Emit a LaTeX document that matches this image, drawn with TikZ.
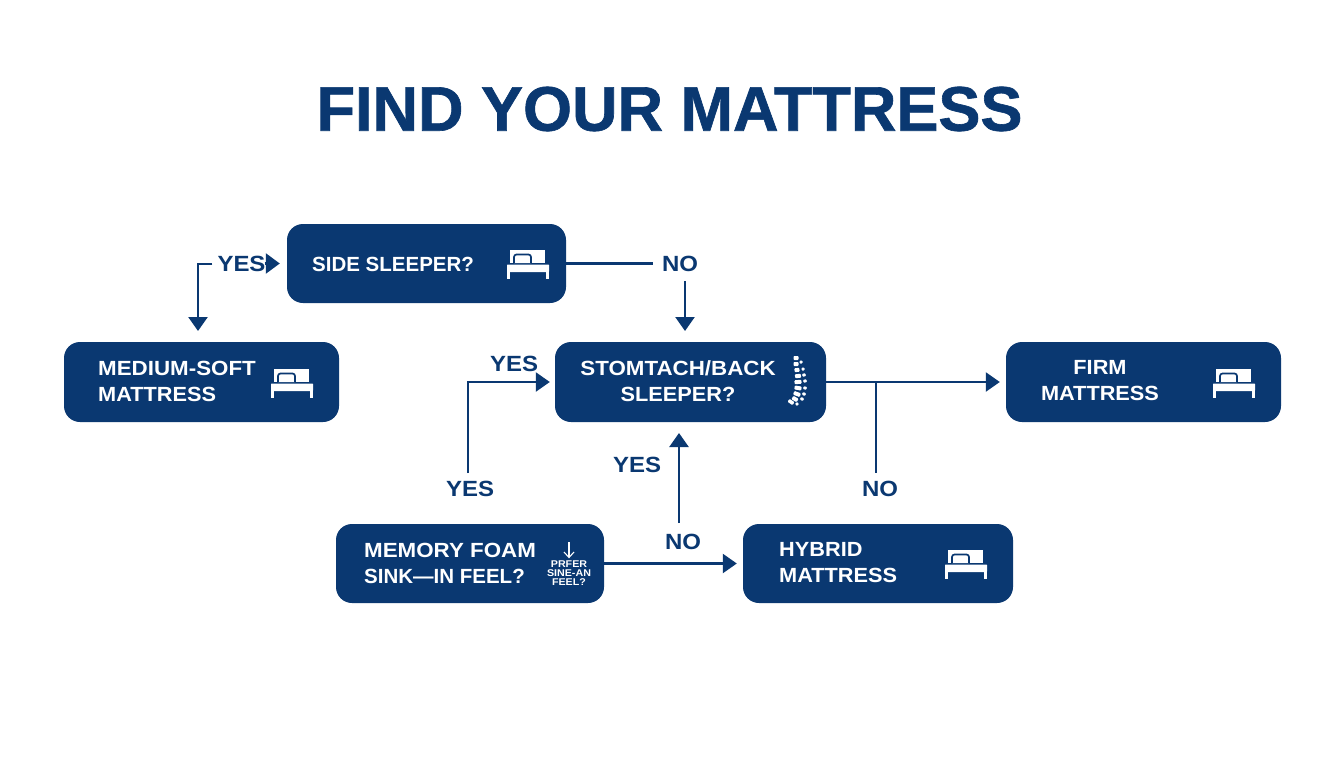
\documentclass[tikz,border=0pt]{standalone}
\usepackage{fontspec}
\setmainfont{Liberation Sans}
\newfontfamily\widefont[FakeStretch=1.09]{Liberation Sans}
\newfontfamily\midfont[FakeStretch=1.06]{Liberation Sans}
\newfontfamily\titlefont[FakeBold=1.0]{Liberation Sans}
\usetikzlibrary{arrows.meta}
\definecolor{navy}{HTML}{0A3871}
\newcommand{\fs}[1]{\normalfont\fontsize{#1}{#1}\selectfont\bfseries}
\newcommand{\fw}[1]{\widefont\fontsize{#1}{#1}\selectfont\bfseries}
\newcommand{\fm}[1]{\midfont\fontsize{#1}{#1}\selectfont\bfseries}
\newcommand{\bedicon}[2]{%
  \begin{scope}[shift={(#1,#2)}]
    \fill[white] (3,0) rectangle (38,13);
    \draw[navy,line width=1.7pt,fill=white,rounded corners=2.5pt] (7,13) -- (7,4.5) -- (24,4.5) -- (24,13);
    \fill[white,rounded corners=0.6pt] (0,14.5) rectangle (42,22);
    \fill[white] (0,20) rectangle (3.2,29);
    \fill[white] (38.8,20) rectangle (42,29);
  \end{scope}}
\tikzset{
  box/.style={draw=none,fill=navy,rounded corners=16pt,inner sep=0pt},
  boxtext/.style={text=white,font=\fw{20.5},align=left,inner sep=0pt,anchor=west},
  lab/.style={text=navy,font=\fw{22},inner sep=0pt},
  conn/.style={draw=navy,line width=2.4pt},
  arr/.style={conn,-{Triangle[length=14pt,width=19pt]}},
}
\begin{document}
\begin{tikzpicture}[x=1pt,y=-1pt]
\useasboundingbox[fill=white] (0,0) rectangle (1344,768);
\node[text=navy,font={\titlefont\fontsize{63}{63}\selectfont\bfseries},inner sep=0pt] (title) at (669.5,109) {FIND YOUR MATTRESS};

\node[box,minimum width=279pt,minimum height=79pt] (side) at (426.5,263.5) {};
\node[box,minimum width=275pt,minimum height=80pt] (medium) at (201.5,382) {};
\node[box,minimum width=271pt,minimum height=80pt] (stomach) at (690.5,382) {};
\node[box,minimum width=275pt,minimum height=80pt] (firm) at (1143.5,382) {};
\node[box,minimum width=268pt,minimum height=79pt] (memory) at (470,563.5) {};
\node[box,minimum width=270pt,minimum height=79pt] (hybrid) at (878,563.5) {};

\node[boxtext,font=\fs{20.5}] (sidet) at (312,264) {SIDE SLEEPER?};
\node[boxtext] (medt) at (98,381) {MEDIUM-SOFT\\[5.5pt]{\fm{20.5}MATTRESS}};
\node[boxtext,align=center,anchor=center] (stot) at (678,381) {STOMTACH/BACK\\[5.5pt]{\fm{20.5}SLEEPER?}};
\node[boxtext,align=center,anchor=center] (firmt) at (1100,381) {{\fm{20.5}FIRM}\\[5.5pt]{\fm{20.5}MATTRESS}};
\node[boxtext] (memt) at (364,563) {MEMORY FOAM\\[5.5pt]{\fs{20.5}SINK—IN FEEL?}};
\node[boxtext,font=\fm{20.5}] (hybt) at (779,563) {HYBRID\\[5.5pt]MATTRESS};

\bedicon{507}{250}
\bedicon{271}{369}
\bedicon{1213}{369}
\bedicon{945}{550}

% spine icon
\foreach \x/\y/\w/\h/\a in {
 796/358/5/4/0, 796/364/5/4/0, 801/362/3/3/0, 797/370/5/4/5, 803/369/3/3/0,
 798/376/6/4/5, 804/375/3.5/3/10, 798/382/7/4/5, 805/381/3.5/3/10,
 798/388/7/4/-10, 805/388/3.5/3/-10, 797/394/7/4/-20, 804/394/3.5/3/-25,
 795/399/6/4/-30, 802/399/3.5/3/-30, 791/402/6/3.6/-35, 797/404/3/3/-35}{
  \fill[white,rounded corners=0.9pt,rotate around={\a:(\x,\y)}]
    (\x-\w/2,\y-\h/2) rectangle (\x+\w/2,\y+\h/2);
}

% small icon in the memory foam box
\node[text=white,font=\fw{9.8},align=center,inner sep=0pt] (small) at (569,573) {PRFER\\[-0.5pt]SINE-AN\\[-0.5pt]FEEL?};
\draw[white,line width=1.1pt] (569,542) -- (569,557);
\draw[white,line width=1.1pt] (564,552) -- (569,557.5) -- (574,552);

% labels
\node[lab] (yesa) at (241.5,264) {YES};
\node[lab] (noa) at (680,264) {NO};
\node[lab] (yesb) at (514,364) {YES};
\node[lab] (yesc) at (470,489) {YES};
\node[lab] (yesd) at (637,465) {YES};
\node[lab] (nob) at (880,489) {NO};
\node[lab] (noc) at (683,542) {NO};

% connectors
\coordinate (medtip) at (198,331);
\coordinate (notip) at (685,331);
\coordinate (nostart) at (685,281);
\coordinate (branch) at (876,382);
\coordinate (branchend) at (876,473);
\coordinate (leftstart) at (468,473);
\coordinate (upstart) at (679,523);
\coordinate (uptip) at (679,433);
\draw[arr,-{Triangle[length=14pt,width=20pt]}] ([xshift=-1pt]yesa.east |- side.west) -- ([xshift=-7pt]side.west);
\draw[arr] ([xshift=-5pt]yesa.west) -| (medtip);
\draw[conn] (side.east) -- ([xshift=-9pt]noa.west |- side.east);
\draw[arr] (nostart) -- (notip);
\draw[arr] (stomach.east) -- ([xshift=-6pt]firm.west);
\draw[conn] (branch) -- (branchend);
\draw[arr] (leftstart) |- ([xshift=-5pt]stomach.west);
\draw[arr] (upstart) -- (uptip);
\draw[arr] (memory.east) -- ([xshift=-6pt]hybrid.west);
\end{tikzpicture}
\end{document}
